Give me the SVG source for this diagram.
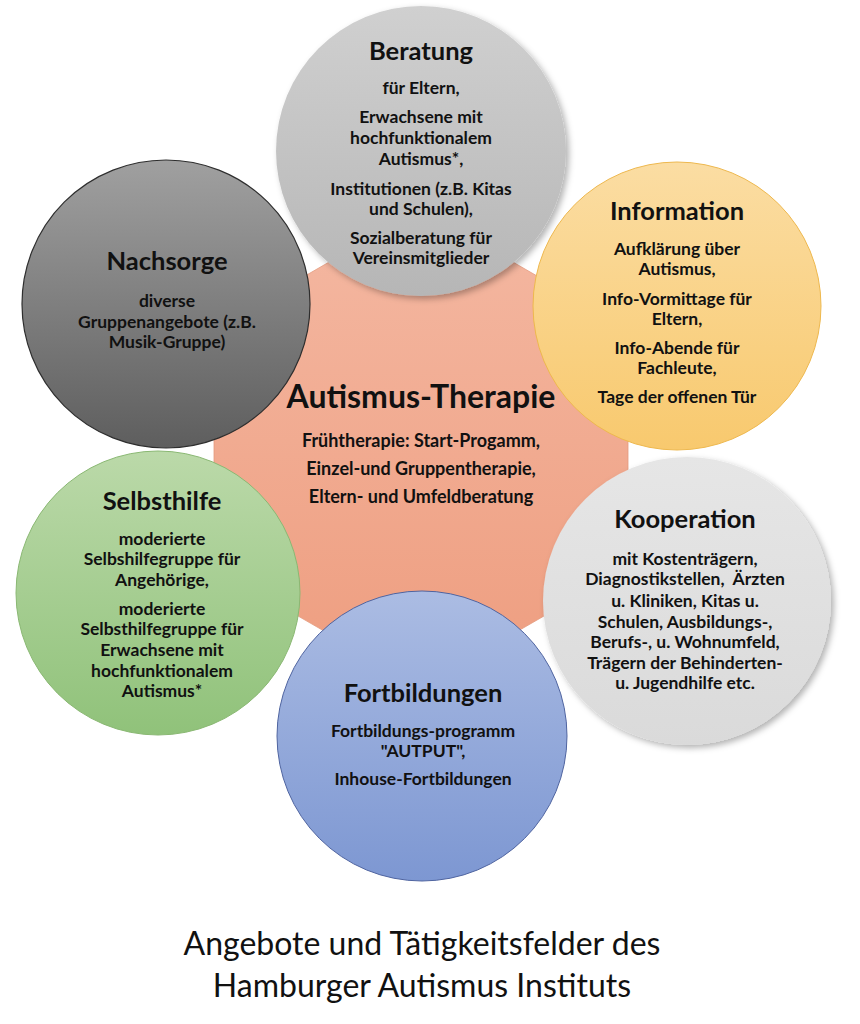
<svg xmlns="http://www.w3.org/2000/svg" width="860" height="1024" viewBox="0 0 860 1024">
<defs>
<linearGradient id="gCenter" x1="0" y1="0" x2="0" y2="1"><stop offset="0" stop-color="#F4B8A2"/><stop offset="1" stop-color="#EE9D7F"/></linearGradient>
<linearGradient id="gBer" x1="0" y1="0" x2="0" y2="1"><stop offset="0" stop-color="#D0D0D0"/><stop offset="1" stop-color="#B6B6B6"/></linearGradient>
<linearGradient id="gInfo" x1="0" y1="0" x2="0" y2="1"><stop offset="0" stop-color="#FBDDA3"/><stop offset="1" stop-color="#F8C96E"/></linearGradient>
<linearGradient id="gNach" x1="0" y1="0" x2="0" y2="1"><stop offset="0" stop-color="#A0A0A0"/><stop offset="1" stop-color="#5E5E5E"/></linearGradient>
<linearGradient id="gSelb" x1="0" y1="0" x2="0" y2="1"><stop offset="0" stop-color="#BBD9A9"/><stop offset="1" stop-color="#90C27A"/></linearGradient>
<linearGradient id="gKoop" x1="0" y1="0" x2="0" y2="1"><stop offset="0" stop-color="#E6E6E6"/><stop offset="1" stop-color="#DADADA"/></linearGradient>
<linearGradient id="gFort" x1="0" y1="0" x2="0" y2="1"><stop offset="0" stop-color="#ABBCE3"/><stop offset="1" stop-color="#7D97D2"/></linearGradient>
<filter id="shadow" x="-20%" y="-20%" width="140%" height="140%"><feDropShadow dx="3" dy="3" stdDeviation="3" flood-color="#000" flood-opacity="0.3"/></filter>
</defs>
<style>
text{font-family:Lato,"Liberation Sans",sans-serif;fill:#111;text-anchor:middle;white-space:pre;}
.t{font-weight:bold;font-size:25.5px;}
.b{font-weight:bold;font-size:17.5px;}
.ct{font-weight:bold;font-size:32px;}
.cb{font-weight:bold;font-size:18px;}
.cap{font-size:32px;font-weight:normal;}
</style>
<rect width="860" height="1024" fill="#FFFFFF"/>
<g id="connectors"/>
<g id="center">
<polygon points="421,209 628,328.5 628,567.5 421,687 214,567.5 214,328.5" fill="url(#gCenter)" stroke="#E39A7E" stroke-width="0.8"/>
<text class="ct" x="421" y="408">Autismus-Therapie</text>
<text class="cb" x="421" y="447">Frühtherapie: Start-Progamm,</text>
<text class="cb" x="421" y="475">Einzel-und Gruppentherapie,</text>
<text class="cb" x="421" y="503">Eltern- und Umfeldberatung</text>
</g>
<g id="beratung">
<circle cx="421" cy="151" r="145" fill="url(#gBer)" filter="url(#shadow)"/>
<text class="t" x="421" y="60">Beratung</text>
<text class="b" x="421" y="94">für Eltern,</text>
<text class="b" x="421" y="123">Erwachsene mit</text>
<text class="b" x="421" y="144">hochfunktionalem</text>
<text class="b" x="421" y="165">Autismus*,</text>
<text class="b" x="421" y="195">Institutionen (z.B. Kitas</text>
<text class="b" x="421" y="215">und Schulen),</text>
<text class="b" x="421" y="244">Sozialberatung für</text>
<text class="b" x="421" y="264">Vereinsmitglieder</text>
</g>
<g id="information">
<circle cx="677" cy="306" r="144" fill="url(#gInfo)" stroke="#EEB84E" stroke-width="1"/>
<text class="t" x="677" y="220">Information</text>
<text class="b" x="677" y="255">Aufklärung über</text>
<text class="b" x="677" y="275">Autismus,</text>
<text class="b" x="677" y="305">Info-Vormittage für</text>
<text class="b" x="677" y="325">Eltern,</text>
<text class="b" x="677" y="354">Info-Abende für</text>
<text class="b" x="677" y="374">Fachleute,</text>
<text class="b" x="677" y="403">Tage der offenen Tür</text>
</g>
<g id="kooperation">
<circle cx="687" cy="601" r="144" fill="url(#gKoop)" filter="url(#shadow)"/>
<text class="t" x="685" y="528">Kooperation</text>
<text class="b" x="685" y="565">mit Kostenträgern,</text>
<text class="b" x="685" y="585">Diagnostikstellen,  Ärzten</text>
<text class="b" x="685" y="607">u. Kliniken, Kitas u.</text>
<text class="b" x="685" y="628">Schulen, Ausbildungs-,</text>
<text class="b" x="685" y="648">Berufs-, u. Wohnumfeld,</text>
<text class="b" x="685" y="669">Trägern der Behinderten-</text>
<text class="b" x="685" y="689">u. Jugendhilfe etc.</text>
</g>
<g id="fortbildungen">
<circle cx="422" cy="736" r="145" fill="url(#gFort)" stroke="#4F64A0" stroke-width="1"/>
<text class="t" x="423" y="702">Fortbildungen</text>
<text class="b" x="423" y="737">Fortbildungs-programm</text>
<text class="b" x="423" y="757">"AUTPUT",</text>
<text class="b" x="423" y="785">Inhouse-Fortbildungen</text>
</g>
<g id="selbsthilfe">
<circle cx="158" cy="593" r="142" fill="url(#gSelb)" stroke="#8AB873" stroke-width="1"/>
<text class="t" x="162" y="510">Selbsthilfe</text>
<text class="b" x="162" y="545">moderierte</text>
<text class="b" x="162" y="565">Selbshilfegruppe für</text>
<text class="b" x="162" y="586">Angehörige,</text>
<text class="b" x="162" y="615">moderierte</text>
<text class="b" x="162" y="635">Selbsthilfegruppe für</text>
<text class="b" x="162" y="656">Erwachsene mit</text>
<text class="b" x="162" y="677">hochfunktionalem</text>
<text class="b" x="162" y="697">Autismus*</text>
</g>
<g id="nachsorge">
<circle cx="166" cy="304" r="144" fill="url(#gNach)" stroke="#2E2E2E" stroke-width="1.2"/>
<text class="t" x="167" y="270">Nachsorge</text>
<text class="b" x="167" y="307">diverse</text>
<text class="b" x="167" y="328">Gruppenangebote (z.B.</text>
<text class="b" x="167" y="348">Musik-Gruppe)</text>
</g>
<g id="caption">
<text class="cap" x="422" y="955">Angebote und Tätigkeitsfelder des</text>
<text class="cap" x="422" y="997">Hamburger Autismus Instituts</text>
</g>
</svg>
